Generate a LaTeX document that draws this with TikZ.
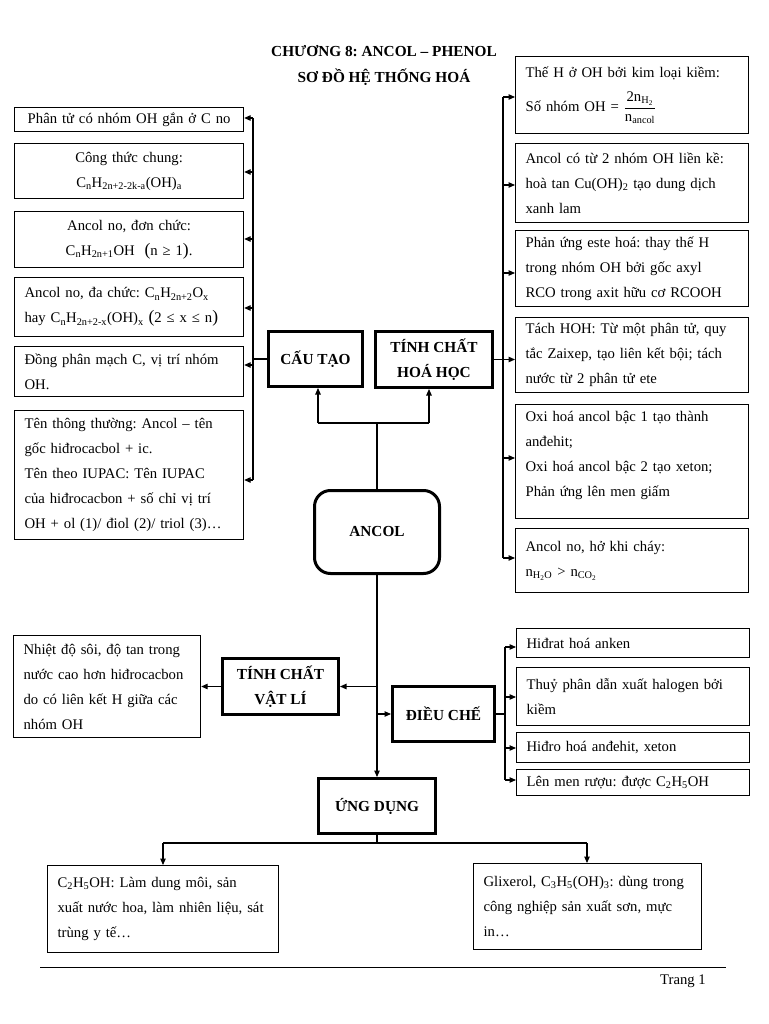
\documentclass[tikz,border=0pt]{standalone}
\usepackage{fontspec}
\setmainfont{Liberation Serif}
\usetikzlibrary{arrows.meta}
\frenchspacing
\newcommand\bodyfont{\frenchspacing\fontsize{14.7}{25}\selectfont}
\newcommand\headfont{\frenchspacing\fontsize{15.3}{25}\selectfont\bfseries}
\newcommand\jst[1]{\makebox[\linewidth][s]{#1}}
\newcommand\bigp[1]{{\fontsize{17.5}{25}\selectfont #1}}
\begin{document}
\begin{tikzpicture}[x=1pt,y=-1pt,
  tbox/.style={draw, line width=1.2pt, anchor=north west, inner xsep=10pt, inner ysep=0pt, align=left, font=\bodyfont},
  hbox/.style={draw, line width=3pt, anchor=north west, inner sep=0pt, align=center, font=\headfont},
  conn/.style={line width=1.1pt},
  arr/.style={conn, -{Triangle[length=6.5pt,width=5.5pt]}},
  ttl/.style={font=\headfont, anchor=base, inner sep=0pt}
]
\useasboundingbox (0,0) rectangle (768,1024);

% title
\node[ttl] (t1) at (384,57) {CHƯƠNG 8: ANCOL – PHENOL};
\node[ttl] (t2) at (384,83) {SƠ ĐỒ HỆ THỐNG HOÁ};

% left boxes
\node[tbox, text width=209pt, minimum height=24pt, align=center] (L1) at (14,107) {Phân tử có nhóm OH gắn ở C no};
\node[tbox, text width=209pt, minimum height=55pt, align=center] (L2) at (14,143) {Công thức chung:\\ C\textsubscript{n}H\textsubscript{2n+2-2k-a}(OH)\textsubscript{a}};
\node[tbox, text width=209pt, minimum height=56pt, align=center] (L3) at (14,211) {Ancol no, đơn chức:\\ C\textsubscript{n}H\textsubscript{2n+1}OH \ \bigp{(}n ≥ 1\bigp{)}.};
\node[tbox, text width=209pt, minimum height=59pt] (L4) at (14,277) {Ancol no, đa chức: C\textsubscript{n}H\textsubscript{2n+2}O\textsubscript{x}\\ hay C\textsubscript{n}H\textsubscript{2n+2-x}(OH)\textsubscript{x} \bigp{(}2 ≤ x ≤ n\bigp{)}};
\node[tbox, text width=209pt, minimum height=50pt] (L5) at (14,346) {\jst{Đồng phân mạch C, vị trí nhóm}\\ OH.};
\node[tbox, text width=209pt, minimum height=129pt] (L6) at (14,410) {\jst{Tên thông thường: Ancol – tên}\\ gốc hiđrocacbol + ic.\\ \jst{Tên theo IUPAC: Tên IUPAC}\\ \jst{của hiđrocacbon + số chỉ vị trí}\\ OH + ol (1)/ điol (2)/ triol (3)…};

% right boxes
\node[tbox, text width=213pt, minimum height=77pt] (R1) at (515,56) {Thế H ở OH bởi kim loại kiềm:\\[9pt] Số nhóm OH = $\displaystyle\frac{\mbox{2n\textsubscript{H\textsubscript{2}}}}{\mbox{n\textsubscript{ancol}}}$};
\node[tbox, text width=213pt, minimum height=79pt] (R2) at (515,143) {\jst{Ancol có từ 2 nhóm OH liền kề:}\\ \jst{hoà tan Cu(OH)\textsubscript{2} tạo dung dịch}\\ xanh lam};
\node[tbox, text width=213pt, minimum height=76pt] (R3) at (515,230) {\jst{Phản ứng este hoá: thay thế H}\\ \jst{trong nhóm OH bởi gốc axyl}\\ RCO trong axit hữu cơ RCOOH};
\node[tbox, text width=213pt, minimum height=75pt] (R4) at (515,317) {\jst{Tách HOH: Từ một phân tử, quy}\\ \jst{tắc Zaixep, tạo liên kết bội; tách}\\ nước từ 2 phân tử ete};
\node[tbox, text width=213pt, minimum height=114pt] (R5) at (515,404) {\jst{Oxi hoá ancol bậc 1 tạo thành}\\ anđehit;\\ Oxi hoá ancol bậc 2 tạo xeton;\\ Phản ứng lên men giấm\\[-10pt]\mbox{}};
\node[tbox, text width=213pt, minimum height=64pt] (R6) at (515,528) {Ancol no, hở khi cháy:\\ n\textsubscript{H\textsubscript{2}O} > n\textsubscript{CO\textsubscript{2}}};

% heading boxes
\node[hbox, minimum width=94pt, minimum height=55pt] (CT) at (267,330) {CẤU TẠO};
\node[hbox, minimum width=117pt, minimum height=56pt] (HH) at (374,330) {TÍNH CHẤT\\HOÁ HỌC};
\node[hbox, minimum width=125pt, minimum height=83pt, rounded corners=16pt] (ANC) at (313,489) {ANCOL};
\node[hbox, minimum width=116pt, minimum height=56pt] (VL) at (221,657) {TÍNH CHẤT\\VẬT LÍ};
\node[hbox, minimum width=102pt, minimum height=55pt] (DC) at (391,685) {ĐIỀU CHẾ};
\node[hbox, minimum width=117pt, minimum height=55pt] (UD) at (317,777) {ỨNG DỤNG};

% lower boxes
\node[tbox, text width=167pt, minimum height=102pt] (NT) at (13,635) {\jst{Nhiệt độ sôi, độ tan trong}\\ \jst{nước cao hơn hiđrocacbon}\\ \jst{do có liên kết H giữa các}\\ nhóm OH};
\node[tbox, text width=213pt, minimum height=29pt] (D1) at (516,628) {Hiđrat hoá anken};
\node[tbox, text width=213pt, minimum height=58pt] (D2) at (516,667) {\jst{Thuỷ phân dẫn xuất halogen bởi}\\ kiềm};
\node[tbox, text width=213pt, minimum height=30pt] (D3) at (516,732) {Hiđro hoá anđehit, xeton};
\node[tbox, text width=213pt, minimum height=26pt] (D4) at (516,769) {Lên men rượu: được C\textsubscript{2}H\textsubscript{5}OH};
\node[tbox, text width=211pt, minimum height=87pt] (B1) at (47,865) {\jst{C\textsubscript{2}H\textsubscript{5}OH: Làm dung môi, sản}\\ \jst{xuất nước hoa, làm nhiên liệu, sát}\\ trùng y tế…};
\node[tbox, text width=208pt, minimum height=86pt] (B2) at (473,863) {\jst{Glixerol, C\textsubscript{3}H\textsubscript{5}(OH)\textsubscript{3}: dùng trong}\\ \jst{công nghiệp sản xuất sơn, mực}\\ in…};

% left bus
\coordinate (lb1) at (253,118);
\coordinate (lb2) at (253,172);
\coordinate (lb3) at (253,239);
\coordinate (lb4) at (253,308);
\coordinate (lb5) at (253,365);
\coordinate (lb6) at (253,480);
\draw[conn] (lb1) -- (lb6);
\draw[arr] (lb1) -- (lb1 -| L1.east);
\draw[arr] (lb2) -- (lb2 -| L2.east);
\draw[arr] (lb3) -- (lb3 -| L3.east);
\draw[arr] (lb4) -- (lb4 -| L4.east);
\draw[arr] (lb5) -- (lb5 -| L5.east);
\draw[arr] (lb6) -- (lb6 -| L6.east);
\draw[conn] (CT.west) -- (CT.west -| lb1);

% ancol to upper heads
\coordinate (jL) at (318,423);
\coordinate (jR) at (429,423);
\draw[conn] (ANC.north) -- (ANC.north |- jL);
\draw[conn] (jL) -- (jR);
\draw[arr] (jL) -- (jL |- CT.south);
\draw[arr] (jR) -- (jR |- HH.south);

% right bus
\coordinate (rb1) at (503,97);
\coordinate (rb2) at (503,185);
\coordinate (rb3) at (503,273);
\coordinate (rb5) at (503,458);
\coordinate (rb6) at (503,558);
\draw[conn] (rb1) -- (rb6);
\draw[arr] (rb1) -- (rb1 -| R1.west);
\draw[arr] (rb2) -- (rb2 -| R2.west);
\draw[arr] (rb3) -- (rb3 -| R3.west);
\draw[arr] (HH.east) -- (HH.east -| R4.west);
\draw[arr] (rb5) -- (rb5 -| R5.west);
\draw[arr] (rb6) -- (rb6 -| R6.west);

% lower trunk
\draw[arr] (ANC.south) -- (UD.north);
\draw[arr] (VL.east -| ANC.south) -- (VL.east);
\draw[arr] (VL.west) -- (VL.west -| NT.east);
\draw[arr] (DC.west -| ANC.south) -- (DC.west);

% dieu che bus
\coordinate (db1) at (505,647);
\coordinate (db2) at (505,697);
\coordinate (db3) at (505,748);
\coordinate (db4) at (505,780);
\draw[conn] (DC.east) -- (DC.east -| db1);
\draw[conn] (db1) -- (db4);
\draw[arr] (db1) -- (db1 -| D1.west);
\draw[arr] (db2) -- (db2 -| D2.west);
\draw[arr] (db3) -- (db3 -| D3.west);
\draw[arr] (db4) -- (db4 -| D4.west);

% ung dung split
\coordinate (uL) at (163,843);
\coordinate (uR) at (587,843);
\draw[conn] (UD.south) -- (UD.south |- uL);
\draw[conn] (uL) -- (uR);
\draw[arr] (uL) -- (uL |- B1.north);
\draw[arr] (uR) -- (uR |- B2.north);

% footer
\coordinate (fL) at (40,967);
\coordinate (fR) at (726,967);
\draw[line width=1pt] (fL) -- (fR);
\node[font=\bodyfont, anchor=base east, inner sep=0pt] (pg) at (706,984) {Trang 1};
\end{tikzpicture}
\end{document}
